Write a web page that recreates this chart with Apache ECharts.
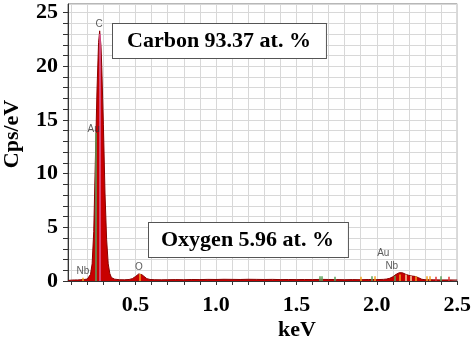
<!DOCTYPE html>
<html>
<head>
<meta charset="utf-8">
<script src="https://cdn.jsdelivr.net/npm/echarts@6/dist/echarts.min.js"></script>
<style>
  html, body { margin: 0; padding: 0; background: #fff; }
  #chart { width: 474px; height: 347px; }
</style>
</head>
<body>
<div id="chart"></div>
<script>
// EDS spectrum: energy (keV) against counts per second per eV
const energy = [0.08,0.10,0.12,0.14,0.16,0.17,0.18,0.20,0.21,0.22,0.23,0.24,0.25,0.26,0.27,0.277,0.285,0.29,0.30,0.31,0.32,0.33,0.34,0.35,0.37,0.40,0.43,0.46,0.48,0.50,0.51,0.52,0.53,0.54,0.55,0.57,0.59,0.62,0.66,0.70,0.75,0.80,0.85,0.90,0.95,1.00,1.05,1.10,1.15,1.20,1.25,1.30,1.35,1.40,1.45,1.50,1.55,1.60,1.65,1.70,1.75,1.80,1.85,1.90,1.95,2.00,2.04,2.06,2.08,2.10,2.12,2.14,2.16,2.18,2.20,2.22,2.24,2.26,2.28,2.30,2.35,2.40,2.45,2.50];
const cps = [0.05,0.08,0.10,0.10,0.12,0.15,0.14,0.18,0.30,0.62,1.6,4.6,11.2,17.6,22.2,23.3,21.9,19.9,14.6,8.2,3.9,1.6,0.7,0.32,0.17,0.12,0.11,0.14,0.22,0.42,0.56,0.66,0.68,0.58,0.44,0.22,0.14,0.12,0.11,0.12,0.13,0.12,0.14,0.13,0.15,0.14,0.16,0.15,0.14,0.16,0.15,0.14,0.15,0.13,0.14,0.13,0.14,0.13,0.15,0.14,0.13,0.12,0.13,0.12,0.14,0.13,0.15,0.18,0.25,0.4,0.62,0.78,0.76,0.62,0.52,0.46,0.42,0.3,0.16,0.12,0.11,0.10,0.10,0.09];

// element marker lines: energy, top value, kind
const markerEnergy = [0.17, 0.252, 0.277, 0.525, 1.645, 1.658, 1.74, 1.90, 1.97, 1.99, 2.11, 2.14, 2.18, 2.21, 2.24, 2.31, 2.33, 2.365, 2.40, 2.45];
const markerTop    = [0.3, 13.8, 23.0, 0.66, 0.45, 0.45, 0.4, 0.4, 0.45, 0.45, 0.5, 0.6, 0.6, 0.5, 0.45, 0.45, 0.45, 0.4, 0.45, 0.4];
const markerKind   = ['orange','green','pink','orange','green','green','green','orange','green','orange','green','orange','white','white','orange','orange','orange','red','green','red'];

// element labels
const elemNames  = ['Nb', 'Au', 'C', 'O', 'Au', 'Nb'];
const elemEnergy = [0.172, 0.24, 0.273, 0.52, 2.04, 2.093];
const elemValue  = [0.93, 14.1, 23.9, 1.3, 2.6, 1.4];

// annotation texts
const notes = ['Carbon 93.37 at. %', 'Oxygen 5.96 at. %'];

// axis labels
const xTickLabels = [0.5, 1.0, 1.5, 2.0, 2.5];
const yTickLabels = [0, 5, 10, 15, 20, 25];

const kindColor = { orange: '#f0a020', green: '#5aa05a', pink: '#e060a0', red: '#e03030', white: '#f8d0a0' };
const serif = '"Liberation Serif", "Times New Roman", serif';

const spectrum = energy.map((e, i) => [e, cps[i]]);
const markLines = markerEnergy.map((e, i) => [
  { coord: [e, 0], lineStyle: { color: kindColor[markerKind[i]], width: 1.5, type: 'solid' } },
  { coord: [e, markerTop[i]] }
]);
const elemPoints = elemNames.map((n, i) => ({ value: [elemEnergy[i], elemValue[i]], name: n }));

const chart = echarts.init(document.getElementById('chart'), null, { renderer: 'canvas' });
chart.setOption({
  animation: false,
  backgroundColor: '#ffffff',
  grid: { left: 68, right: 16, top: 4, bottom: 66, show: true, borderColor: '#6e6e6e', borderWidth: 1, containLabel: false },
  xAxis: {
    type: 'value', min: 0.08, max: 2.5, splitNumber: 24,
    axisLine: { show: true, onZero: false, lineStyle: { color: '#333', width: 1 } },
    axisTick: { show: true, length: 4, lineStyle: { color: '#333' } },
    splitLine: { show: true, lineStyle: { color: '#d8d8d8', width: 1 } },
    axisLabel: {
      margin: 13, color: '#000', fontFamily: serif, fontWeight: 'bold', fontSize: 22,
      showMinLabel: false,
      formatter: v => {
        const hit = xTickLabels.find(t => Math.abs(t - v) < 1e-6);
        return hit !== undefined ? hit.toFixed(1) : '';
      }
    }
  },
  yAxis: {
    type: 'value', min: 0, max: 25.8, interval: 1,
    axisLine: { show: true, lineStyle: { color: '#333', width: 1 } },
    axisTick: { show: true, length: 5, lineStyle: { color: '#333' } },
    splitLine: { show: true, lineStyle: { color: '#d8d8d8', width: 1 } },
    axisLabel: {
      margin: 10, color: '#000', fontFamily: serif, fontWeight: 'bold', fontSize: 22,
      showMaxLabel: false,
      formatter: v => {
        const hit = yTickLabels.find(t => Math.abs(t - v) < 1e-6);
        return hit !== undefined ? String(hit) : '';
      }
    }
  },
  series: [
    {
      type: 'line', data: spectrum, symbol: 'none', smooth: false,
      lineStyle: { color: '#8a0000', width: 1 },
      areaStyle: { color: '#c80000', opacity: 1 },
      z: 2,
      markLine: { silent: true, symbol: 'none', label: { show: false }, data: markLines, z: 3 }
    },
    {
      type: 'scatter', data: elemPoints, symbolSize: 0, z: 5,
      label: { show: true, position: 'inside', formatter: p => p.name, color: '#333', fontSize: 10, fontFamily: '"Liberation Sans", Arial, sans-serif' }
    }
  ],
  graphic: [
    {
      type: 'text', left: 112, top: 23, z: 10,
      style: {
        text: notes[0], font: 'bold 22px ' + serif, fill: '#000',
        backgroundColor: '#fff', borderColor: '#555', borderWidth: 1,
        padding: [6, 15, 6, 14]
      }
    },
    {
      type: 'text', left: 148, top: 222, z: 10,
      style: {
        text: notes[1], font: 'bold 22px ' + serif, fill: '#000',
        backgroundColor: '#fff', borderColor: '#555', borderWidth: 1,
        padding: [6, 14, 6, 12]
      }
    },
    {
      type: 'text', x: 297, y: 330, z: 10,
      style: { text: 'keV', font: 'bold 22px ' + serif, fill: '#000', align: 'center', verticalAlign: 'middle' }
    },
    {
      type: 'text', x: 12, y: 134, rotation: Math.PI / 2, z: 10,
      style: { text: 'Cps/eV', font: 'bold 22px ' + serif, fill: '#000', align: 'center', verticalAlign: 'middle' }
    }
  ]
});
</script>
</body>
</html>
